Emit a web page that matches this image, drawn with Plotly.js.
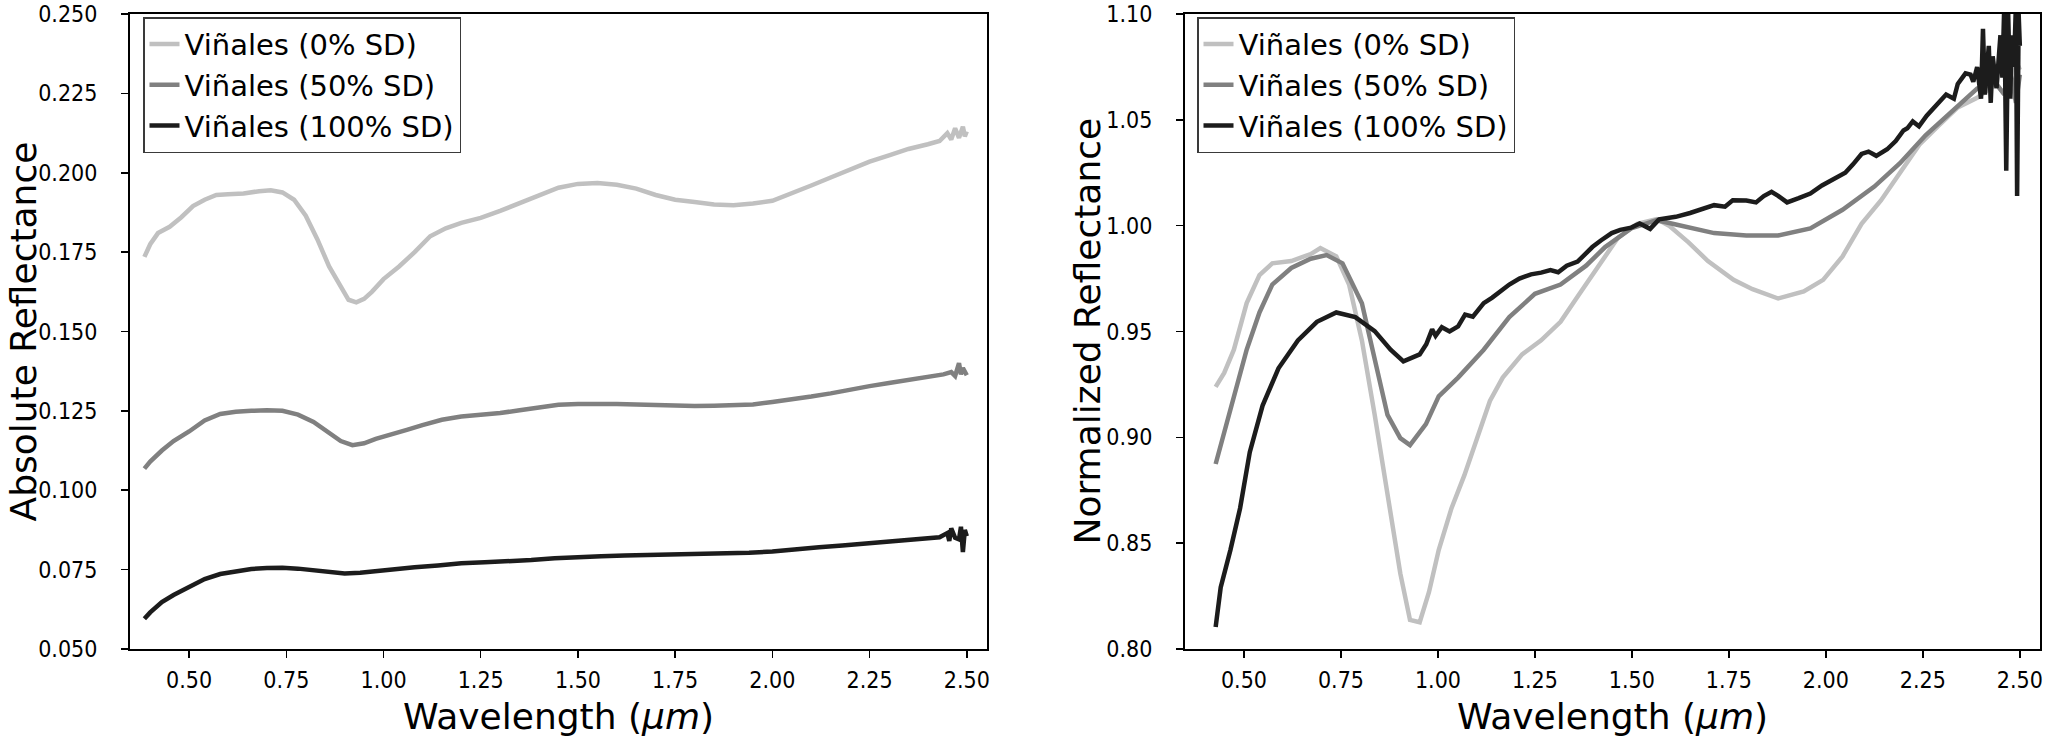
<!DOCTYPE html>
<html>
<head>
<meta charset="utf-8">
<script src="https://cdn.plot.ly/plotly-3.0.1.min.js"></script>
<style>
  html, body { margin: 0; padding: 0; background: #fff; }
  #chart { width: 2047px; height: 737px; }
</style>
</head>
<body>
<div id="chart"></div>
<script>
// Series labels
const seriesNames = ['Viñales (0% SD)', 'Viñales (50% SD)', 'Viñales (100% SD)'];
const seriesColors = ['#c0c0c0', '#808080', '#1c1c1c'];

// ---- Absolute reflectance spectra (left panel) ----
const absWl0 = [0.385,0.40,0.42,0.45,0.48,0.51,0.54,0.57,0.60,0.64,0.68,0.71,0.74,0.77,0.80,0.83,0.86,0.89,0.91,0.93,0.95,0.97,1.00,1.04,1.08,1.12,1.16,1.20,1.25,1.30,1.35,1.40,1.45,1.50,1.55,1.60,1.65,1.70,1.75,1.80,1.85,1.90,1.95,2.00,2.05,2.10,2.15,2.20,2.25,2.30,2.35,2.40,2.43,2.45,2.46,2.47,2.48,2.49,2.495,2.50];
const absRefl0 = [0.1735,0.1775,0.1810,0.1830,0.1860,0.1895,0.1915,0.1930,0.1932,0.1935,0.1942,0.1945,0.1938,0.1915,0.1865,0.1790,0.1705,0.1640,0.1600,0.1592,0.1603,0.1625,0.1665,0.1705,0.1750,0.1800,0.1825,0.1842,0.1858,0.1880,0.1905,0.1930,0.1953,0.1965,0.1968,0.1962,0.1950,0.1930,0.1915,0.1908,0.1900,0.1898,0.1903,0.1912,0.1935,0.1960,0.1985,0.2010,0.2035,0.2055,0.2075,0.2090,0.2100,0.2125,0.2105,0.2140,0.2110,0.2145,0.2115,0.2130];

const absWl50 = [0.385,0.40,0.43,0.46,0.50,0.54,0.58,0.62,0.66,0.70,0.74,0.78,0.82,0.86,0.89,0.92,0.95,0.98,1.02,1.06,1.10,1.15,1.20,1.25,1.30,1.35,1.40,1.45,1.50,1.55,1.60,1.65,1.70,1.75,1.80,1.85,1.90,1.95,2.00,2.05,2.10,2.15,2.20,2.25,2.30,2.35,2.40,2.44,2.46,2.47,2.48,2.485,2.49,2.50];
const absRefl50 = [0.1068,0.1090,0.1125,0.1155,0.1185,0.1220,0.1240,0.1247,0.1250,0.1252,0.1250,0.1238,0.1215,0.1180,0.1155,0.1142,0.1148,0.1162,0.1175,0.1190,0.1205,0.1222,0.1232,0.1237,0.1243,0.1252,0.1262,0.1269,0.1272,0.1273,0.1272,0.1270,0.1268,0.1265,0.1265,0.1266,0.1267,0.1270,0.1278,0.1285,0.1295,0.1305,0.1318,0.1328,0.1338,0.1348,0.1355,0.1365,0.1372,0.1360,0.1400,0.1365,0.1385,0.1362];

const absWl100 = [0.385,0.40,0.43,0.46,0.50,0.54,0.58,0.62,0.66,0.70,0.74,0.78,0.82,0.86,0.90,0.94,0.98,1.02,1.08,1.14,1.20,1.26,1.32,1.38,1.44,1.50,1.56,1.62,1.70,1.78,1.86,1.94,2.00,2.06,2.12,2.18,2.24,2.30,2.36,2.40,2.43,2.45,2.455,2.46,2.47,2.48,2.485,2.49,2.495,2.50];
const absRefl100 = [0.0595,0.0615,0.0648,0.0670,0.0695,0.0720,0.0736,0.0745,0.0752,0.0755,0.0756,0.0753,0.0747,0.0741,0.0738,0.0740,0.0745,0.0752,0.0757,0.0763,0.0770,0.0773,0.0775,0.0780,0.0786,0.0790,0.0792,0.0794,0.0796,0.0798,0.0800,0.0803,0.0807,0.0815,0.0820,0.0826,0.0832,0.0838,0.0844,0.0848,0.0852,0.0865,0.0840,0.0880,0.0850,0.0845,0.0885,0.0805,0.0875,0.0855];

// ---- Normalized reflectance spectra (right panel) ----
const normWl0 = [0.427,0.449,0.474,0.507,0.54,0.573,0.622,0.672,0.697,0.738,0.771,0.804,0.837,0.87,0.903,0.928,0.953,0.977,1.002,1.035,1.068,1.101,1.134,1.167,1.217,1.266,1.316,1.365,1.415,1.464,1.514,1.564,1.597,1.646,1.696,1.762,1.811,1.877,1.943,1.993,2.043,2.092,2.142,2.191,2.241,2.29,2.34,2.39,2.439,2.46,2.472,2.485,2.49,2.5];
const normRefl0 = [0.9238,0.9304,0.9414,0.9634,0.9767,0.9822,0.9833,0.9866,0.9894,0.9855,0.9722,0.9458,0.9106,0.8731,0.8357,0.8137,0.8126,0.8269,0.8467,0.8665,0.882,0.8996,0.9172,0.9282,0.9392,0.9458,0.9546,0.9678,0.9811,0.9943,1.0009,1.0031,0.9998,0.9921,0.9833,0.9744,0.97,0.9656,0.9689,0.9744,0.9855,1.0009,1.0119,1.0251,1.0383,1.0471,1.0559,1.0604,1.067,1.062,1.0692,1.060,1.078,1.0736];

const normWl50 = [0.427,0.449,0.474,0.507,0.54,0.573,0.622,0.672,0.713,0.754,0.804,0.837,0.87,0.903,0.928,0.969,1.002,1.052,1.118,1.184,1.25,1.316,1.382,1.431,1.498,1.564,1.63,1.712,1.795,1.877,1.96,2.043,2.125,2.191,2.257,2.323,2.39,2.439,2.46,2.47,2.48,2.49,2.5];
const normRefl50 = [0.8874,0.9018,0.9194,0.9414,0.959,0.9722,0.98,0.9844,0.9861,0.9822,0.9634,0.937,0.9106,0.8996,0.8963,0.9062,0.9194,0.9282,0.9414,0.9568,0.9678,0.9722,0.9811,0.9899,0.9987,1.0026,0.9998,0.9965,0.9954,0.9954,0.9987,1.0075,1.0185,1.0295,1.0427,1.0537,1.0648,1.067,1.062,1.074,1.0692,1.058,1.0714];

const normWl100 = [0.427,0.44,0.465,0.49,0.515,0.548,0.589,0.639,0.688,0.738,0.787,0.837,0.878,0.911,0.953,0.97,0.985,0.994,1.01,1.03,1.052,1.07,1.09,1.118,1.14,1.16,1.184,1.21,1.24,1.266,1.29,1.31,1.332,1.36,1.38,1.398,1.42,1.448,1.47,1.498,1.52,1.547,1.57,1.613,1.65,1.68,1.712,1.74,1.76,1.795,1.82,1.84,1.86,1.877,1.90,1.93,1.96,1.99,2.026,2.05,2.07,2.092,2.11,2.13,2.158,2.18,2.20,2.21,2.224,2.24,2.26,2.29,2.31,2.33,2.34,2.36,2.373,2.38,2.39,2.40,2.405,2.41,2.42,2.425,2.43,2.44,2.45,2.455,2.46,2.465,2.47,2.475,2.48,2.485,2.49,2.493,2.497,2.5];
const normRefl100 = [0.8104,0.8291,0.8467,0.8665,0.893,0.915,0.9326,0.9458,0.9546,0.959,0.9568,0.9502,0.9414,0.9359,0.9392,0.944,0.951,0.948,0.952,0.950,0.9524,0.958,0.957,0.9634,0.966,0.969,0.9722,0.975,0.977,0.9778,0.979,0.978,0.9811,0.983,0.987,0.9899,0.993,0.9965,0.998,0.9991,1.001,0.9985,1.003,1.0042,1.006,1.008,1.0097,1.009,1.012,1.0119,1.011,1.014,1.016,1.0141,1.011,1.013,1.0152,1.019,1.0229,1.025,1.029,1.0339,1.035,1.033,1.0361,1.040,1.045,1.046,1.0493,1.047,1.052,1.0581,1.062,1.060,1.067,1.072,1.0714,1.068,1.075,1.06,1.093,1.062,1.085,1.058,1.08,1.065,1.09,1.07,1.105,1.026,1.10,1.06,1.09,1.075,1.105,1.014,1.10,1.085];

// ---- Axis ticks ----
const xTicks = [0.50,0.75,1.00,1.25,1.50,1.75,2.00,2.25,2.50];
const absTicks = [0.050,0.075,0.100,0.125,0.150,0.175,0.200,0.225,0.250];
const normTicks = [0.80,0.85,0.90,0.95,1.00,1.05,1.10];

// ---- Axis titles ----
const xTitle = 'Wavelength (<i>μm</i>)';
const absTitle = 'Absolute Reflectance';
const normTitle = 'Normalized Reflectance';

const W = 2047, H = 737;
const lineW = 4.5;

function line(x, y, i, xa, ya, leg) {
  return {
    x: x, y: y, type: 'scatter', mode: 'lines',
    name: seriesNames[i],
    line: { color: seriesColors[i], width: lineW },
    xaxis: xa, yaxis: ya, legend: leg
  };
}

const traces = [
  line(absWl0, absRefl0, 0, 'x', 'y', 'legend'),
  line(absWl50, absRefl50, 1, 'x', 'y', 'legend'),
  line(absWl100, absRefl100, 2, 'x', 'y', 'legend'),
  line(normWl0, normRefl0, 0, 'x2', 'y2', 'legend2'),
  line(normWl50, normRefl50, 1, 'x2', 'y2', 'legend2'),
  line(normWl100, normRefl100, 2, 'x2', 'y2', 'legend2')
];

const tickFont = { family: 'DejaVu Sans Condensed, DejaVu Sans, sans-serif', size: 23, color: '#000' };
const titleFont = { family: 'DejaVu Sans, sans-serif', size: 36, color: '#000' };
const legendFont = { family: 'DejaVu Sans, sans-serif', size: 29, color: '#000' };

function xAxis(domain, anchor) {
  return {
    domain: domain, anchor: anchor, range: [0.348, 2.552],
    tickvals: xTicks, ticktext: xTicks.map(v => v.toFixed(2)),
    ticks: 'outside', ticklen: 7, tickwidth: 1.5, tickcolor: '#000',
    ticklabelstandoff: 2, ticklabeloverflow: 'allow',
    showline: true, linecolor: '#000', linewidth: 2, mirror: true,
    showgrid: false, zeroline: false, tickfont: tickFont,
    title: { text: xTitle, font: titleFont, standoff: 16 },
    automargin: false
  };
}
function yAxis(domain, anchor, range, ticks, digits) {
  return {
    domain: domain, anchor: anchor, range: range,
    tickvals: ticks, ticktext: ticks.map(v => v.toFixed(digits)),
    ticks: 'outside', ticklen: 7, tickwidth: 1.5, tickcolor: '#000',
    ticklabelstandoff: 19, ticklabeloverflow: 'allow',
    showline: true, linecolor: '#000', linewidth: 2, mirror: true,
    showgrid: false, zeroline: false, tickfont: tickFont,
    automargin: false
  };
}

// Vertical axis titles, placed beside the tick labels
function yTitle(text, xPx) {
  return {
    text: text, font: titleFont, textangle: -90,
    xref: 'paper', yref: 'paper', x: xPx / W, y: 0.5,
    xanchor: 'center', yanchor: 'middle', showarrow: false
  };
}

const legendBase = {
  font: legendFont, bgcolor: 'rgba(255,255,255,0.9)',
  bordercolor: '#3a3a3a', borderwidth: 1.5,
  xanchor: 'left', yanchor: 'top', tracegroupgap: 0, itemwidth: 30
};

const layout = {
  width: W, height: H,
  margin: { l: 0, r: 0, t: 14, b: 88 },
  paper_bgcolor: '#fff', plot_bgcolor: '#fff',
  showlegend: true,
  xaxis: xAxis([130 / W, 987 / W], 'y'),
  yaxis: yAxis([0, 1], 'x', [0.04998, 0.25002], absTicks, 3),
  xaxis2: xAxis([1185 / W, 2040 / W], 'y2'),
  yaxis2: yAxis([0, 1], 'x2', [0.79997, 1.10003], normTicks, 2),
  annotations: [yTitle(absTitle, 23), yTitle(normTitle, 1087)],
  legend: Object.assign({ x: 143 / W, y: 0.995 }, legendBase),
  legend2: Object.assign({ x: 1197 / W, y: 0.995 }, legendBase)
};

Plotly.newPlot('chart', traces, layout, { staticPlot: true, displayModeBar: false });
</script>
</body>
</html>
